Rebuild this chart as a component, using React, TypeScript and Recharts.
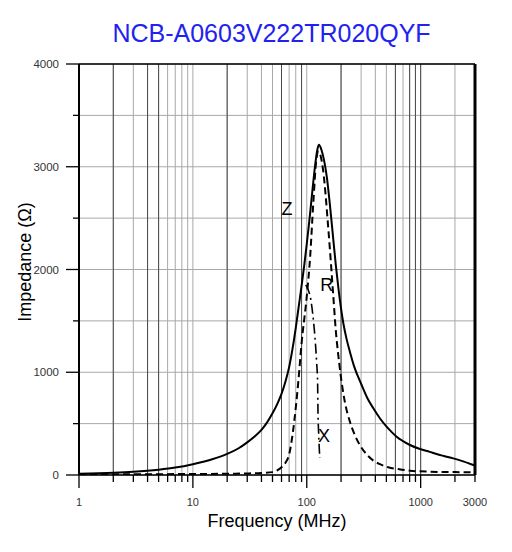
import React from 'react';
import { LineChart, Line, XAxis, YAxis, CartesianGrid, ReferenceLine, ReferenceDot } from 'recharts';

// ---- data (frequency in MHz, impedance in ohm) ----
const Z_FREQ = [1, 2, 3, 5, 7, 10, 15, 20, 25, 30, 35, 40, 45, 50, 55, 60, 65, 70, 75, 80, 85, 90, 95, 100, 105, 110, 118, 124, 128, 134, 142, 150, 160, 171, 180, 190, 200, 210, 224, 239, 260, 303, 340, 384, 440, 502, 560, 615, 700, 805, 986, 1200, 1380, 1600, 1934, 2400, 2900, 3000];
const Z_VALUES = [12, 22, 32, 52, 72, 105, 155, 205, 258, 318, 378, 440, 515, 600, 690, 790, 910, 1050, 1230, 1430, 1640, 1840, 2040, 2250, 2460, 2680, 3000, 3170, 3215, 3170, 3060, 2900, 2620, 2290, 2040, 1810, 1620, 1470, 1320, 1200, 1060, 876, 750, 649, 550, 470, 415, 373, 330, 292, 253, 225, 204, 185, 162, 130, 97, 92];

const R_FREQ = [1, 5, 10, 20, 30, 40, 50, 55, 60, 65, 70, 76, 84, 90, 100, 107, 114, 122, 127, 132, 139, 155, 171, 180, 189, 198, 207, 216, 239, 264, 293, 330, 384, 439, 520, 650, 805, 1200, 2000, 3000];
const R_VALUES = [5, 8, 10, 12, 15, 20, 28, 45, 75, 120, 200, 440, 890, 1280, 1740, 2120, 2640, 3090, 3150, 3110, 2970, 2380, 1740, 1400, 1170, 980, 830, 710, 520, 390, 290, 210, 140, 105, 75, 55, 42, 32, 28, 26];

const X_FREQ = [98, 103, 108, 113, 118, 122, 124.5, 125.5, 127, 130];
const X_VALUES = [1850, 1800, 1720, 1560, 1340, 1100, 900, 600, 420, 165];

const X_TICKS = [1, 2, 3, 4, 5, 6, 7, 8, 9, 10, 20, 30, 40, 50, 60, 70, 80, 90, 100, 200, 300, 400, 500, 600, 700, 800, 900, 1000, 2000, 3000];
const X_LABELS = [1, 10, 100, 1000, 3000];
const X_MAJOR = [1, 10, 100, 1000];
const Y_TICKS = [0, 500, 1000, 1500, 2000, 2500, 3000, 3500, 4000];
const Y_LABELS = [0, 1000, 2000, 3000, 4000];
const DARK_GRID = [2, 4, 5, 20, 60, 90, 200, 600, 800, 900, 1000];

const CURVE_LABELS = [
  { name: 'Z', f: 67, v: 2590 },
  { name: 'R', f: 150, v: 1850 },
  { name: 'X', f: 141.5, v: 380 },
];

const TITLE = 'NCB-A0603V222TR020QYF';
const X_TITLE = 'Frequency (MHz)';
const Y_TITLE = 'Impedance (Ω)';

const zip = (fs: number[], vs: number[]) => fs.map((f, i) => ({ f, v: vs[i] }));
const zData = zip(Z_FREQ, Z_VALUES);
const rData = zip(R_FREQ, R_VALUES);
const xData = zip(X_FREQ, X_VALUES);

const FONT = '"Liberation Sans", Arial, Helvetica, sans-serif';

const XTick = (props: any) => {
  const { x, y, payload } = props;
  const v = payload.value;
  const len = X_MAJOR.includes(v) ? 13 : 7;
  return (
    <g>
      <line x1={x} y1={y} x2={x} y2={y + len} stroke="#000" strokeWidth={1.3} />
      {X_LABELS.includes(v) && (
        <text x={x} y={y + 31} textAnchor="middle" fontSize={11} fill="#333" fontFamily={FONT}>
          {v}
        </text>
      )}
    </g>
  );
};

const YTick = (props: any) => {
  const { x, y, payload } = props;
  const v = payload.value;
  const major = Y_LABELS.includes(v);
  const len = major ? 13 : 6;
  return (
    <g>
      <line x1={x - len} y1={y} x2={x} y2={y} stroke="#000" strokeWidth={1.3} />
      {major && (
        <text x={x - 20} y={y + 4} textAnchor="end" fontSize={11.5} fill="#333" fontFamily={FONT}>
          {v}
        </text>
      )}
    </g>
  );
};

export default function App() {
  return (
    <div style={{ position: 'absolute', left: 0, top: 0, width: 512, height: 552, background: '#fff' }}>
      <LineChart width={512} height={552} margin={{ top: 64, right: 37, bottom: 0, left: 0 }}>
        <CartesianGrid stroke="#a8a8a8" strokeWidth={1} />
        {DARK_GRID.map((f) => (
          <ReferenceLine key={f} x={f} stroke="#4a4a4a" strokeWidth={1} />
        ))}
        <XAxis
          type="number"
          dataKey="f"
          scale="log"
          domain={[1, 3000]}
          ticks={X_TICKS}
          interval={0}
          allowDataOverflow
          height={77}
          tickSize={0}
          tickMargin={0}
          tickLine={false}
          axisLine={{ stroke: '#000', strokeWidth: 1.5 }}
          tick={<XTick />}
        />
        <YAxis
          type="number"
          domain={[0, 4000]}
          ticks={Y_TICKS}
          interval={0}
          allowDataOverflow
          width={79}
          tickSize={0}
          tickMargin={0}
          tickLine={false}
          axisLine={{ stroke: '#000', strokeWidth: 2 }}
          tick={<YTick />}
        />
        <ReferenceLine y={4000} stroke="#000" strokeWidth={1.5} />
        <ReferenceLine x={3000} stroke="#000" strokeWidth={3} />
        <Line data={rData} dataKey="v" type="monotone" stroke="#000" strokeWidth={2} strokeDasharray="7 4" dot={false} isAnimationActive={false} />
        <Line data={xData} dataKey="v" type="monotone" stroke="#000" strokeWidth={1.6} strokeDasharray="10 4 2 4" dot={false} isAnimationActive={false} />
        <Line data={zData} dataKey="v" type="monotone" stroke="#000" strokeWidth={2} dot={false} isAnimationActive={false} />
        {CURVE_LABELS.map((l) => (
          <ReferenceDot
            key={l.name}
            x={l.f}
            y={l.v}
            r={0}
            fill="none"
            stroke="none"
            label={{ value: l.name, position: 'center', fontSize: 18, fill: '#000', fontFamily: FONT }}
          />
        ))}
      </LineChart>
      <svg width={512} height={552} style={{ position: 'absolute', left: 0, top: 0, pointerEvents: 'none' }}>
        <text x={271.5} y={41.5} textAnchor="middle" fontSize={25} fill="#2222ee" fontFamily={FONT}>
          {TITLE}
        </text>
        <text x={277} y={527} textAnchor="middle" fontSize={18} fill="#000" fontFamily={FONT}>
          {X_TITLE}
        </text>
        <text transform="translate(31,262) rotate(-90)" textAnchor="middle" fontSize={18} fill="#000" fontFamily={FONT}>
          {Y_TITLE}
        </text>
      </svg>
    </div>
  );
}
